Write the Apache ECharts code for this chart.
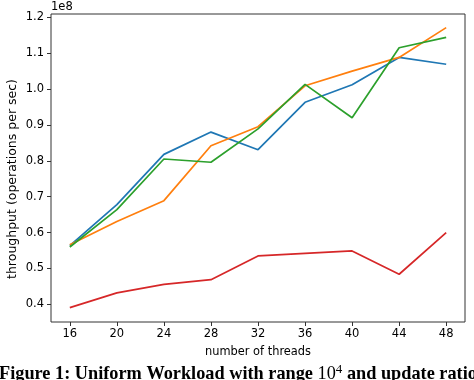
<!DOCTYPE html>
<html><head><meta charset="utf-8">
<script src="https://cdn.jsdelivr.net/npm/echarts@6/dist/echarts.min.js"></script>
<style>html,body{margin:0;padding:0;background:#fff}#c{width:474px;height:380px}</style>
</head><body><div id="c"></div>
<script>
const threads = [16, 20, 24, 28, 32, 36, 40, 44, 48];
const blue   = [0.564, 0.678, 0.818, 0.880, 0.831, 0.963, 1.012, 1.088, 1.069];
const orange = [0.566, 0.631, 0.689, 0.842, 0.895, 1.009, 1.050, 1.088, 1.171];
const green  = [0.560, 0.664, 0.805, 0.796, 0.889, 1.013, 0.920, 1.115, 1.144];
const red    = [0.391, 0.432, 0.456, 0.469, 0.535, 0.542, 0.549, 0.484, 0.600];
const xTicks = [16, 20, 24, 28, 32, 36, 40, 44, 48];
const yTicks = [0.4, 0.5, 0.6, 0.7, 0.8, 0.9, 1.0, 1.1, 1.2];

const pair = arr => threads.map((t, i) => [t, arr[i]]);
const mk = (d, c) => ({type: 'line', data: pair(d), symbol: 'none', lineStyle: {width: 1.7, color: c}, itemStyle: {color: c}, animation: false});
const tickFont = {fontFamily: 'DejaVu Sans', fontSize: 11.5, color: '#000'};

const chart = echarts.init(document.getElementById('c'), null, {renderer: 'canvas'});
chart.setOption({
  animation: false,
  grid: {left: 51, right: 9, top: 14, bottom: 58, show: true, borderColor: '#333', borderWidth: 1, backgroundColor: 'transparent'},
  xAxis: {type: 'value', min: 14.4, max: 49.6,
    axisLine: {show: false}, splitLine: {show: false},
    axisTick: {show: true, length: 4, lineStyle: {color: '#333'}, customValues: xTicks},
    axisLabel: Object.assign({customValues: xTicks, margin: 6}, tickFont)},
  yAxis: {type: 'value', min: 0.351, max: 1.209,
    axisLine: {show: false}, splitLine: {show: false},
    axisTick: {show: true, length: 4, lineStyle: {color: '#333'}, customValues: yTicks},
    axisLabel: Object.assign({customValues: yTicks, margin: 7, formatter: v => v.toFixed(1)}, tickFont)},
  series: [mk(blue, '#1f77b4'), mk(orange, '#ff7f0e'), mk(green, '#2ca02c'), mk(red, '#d62728')],
  graphic: [
    {type: 'text', left: 51, top: 1, style: {text: '1e8', font: '11.5px "DejaVu Sans"', fill: '#000'}},
    {type: 'text', x: 13, y: 179, rotation: Math.PI / 2, style: {text: 'throughput (operations per sec)', font: '12.5px "DejaVu Sans"', fill: '#000', align: 'center', verticalAlign: 'middle'}},
    {type: 'text', x: 258, y: 352, style: {text: 'number of threads', font: '11.4px "DejaVu Sans"', fill: '#000', align: 'center', verticalAlign: 'middle'}},
    {type: 'text', x: -1, y: 385, style: {
      text: '{b|Figure 1: Uniform Workload with range }{m|10}{s|4}{b| and update ratio}',
      verticalAlign: 'bottom', align: 'left',
      rich: {
        b: {font: 'bold 18.3px "Liberation Serif"', fill: '#000'},
        m: {font: '18.3px "Liberation Serif"', fill: '#000'},
        s: {font: '13px "Liberation Serif"', fill: '#000', verticalAlign: 'top', padding: [0, 0, 9, 0]}
      }}}
  ]
});
</script></body></html>
